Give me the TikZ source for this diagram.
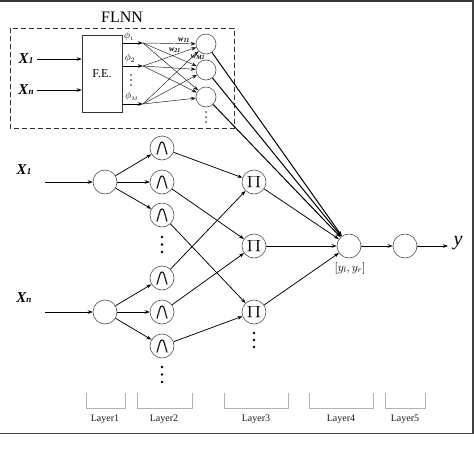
\documentclass[tikz,border=0pt]{standalone}
\usepackage{fontspec}
\usepackage{graphicx}
\setmainfont{Liberation Serif}
\usetikzlibrary{arrows.meta}
\begin{document}
\begin{tikzpicture}[x=1pt,y=-1pt,
  >={Stealth[length=5pt,width=3.6pt]},
  neuron/.style={circle, draw=gray!65!black, line width=0.6pt, minimum size=24pt, inner sep=0pt},
  hid/.style={circle, draw=gray!65!black, line width=0.6pt, minimum size=20pt, inner sep=0pt},
  gauss/.style={neuron, path picture={
    \draw[line width=1.3pt, gray!30!black]
      ([shift={(-5pt,-6.5pt)}]path picture bounding box.center)
      .. controls +(2.6pt,9pt) and +(-2pt,0pt) ..
      ([shift={(0pt,6pt)}]path picture bounding box.center)
      .. controls +(2pt,0pt) and +(-2.6pt,9pt) ..
      ([shift={(5pt,-6.5pt)}]path picture bounding box.center);}},
  prodn/.style={neuron},
  conn/.style={->, line width=0.75pt, black},
  thin/.style={->, line width=0.45pt, gray!20!black},
  thick/.style={->, line width=1pt, black},
  inlab/.style={font=\fontsize{15}{17}\selectfont\bfseries\itshape},
  wlab/.style={font=\footnotesize\bfseries\itshape, inner sep=0pt},
  phil/.style={font=\normalsize, inner sep=0pt},
  bracket/.style={draw=gray!60, line width=0.8pt},
  laylab/.style={font=\fontsize{10}{12}\selectfont, text=gray!20!black},
  dot/.style={fill=black, circle, inner sep=0pt, minimum size=2.6pt},
  sdot/.style={fill=gray!20!black, circle, inner sep=0pt, minimum size=1.8pt}
]
\useasboundingbox (0,0) rectangle (474,450);
% frame
\draw[line width=2.5pt, gray!40!black] (0,1.2) -- (474,1.2);
\draw[line width=2pt, gray!50!black] (472.5,0) -- (472.5,434);
\draw[line width=1.6pt, gray!50!black] (0,433.5) -- (473.5,433.5);

% ---------- FLNN ----------
\node[font=\fontsize{16}{18}\selectfont] (flnn) at (122,17) {FLNN};
\draw[gray!40!black, line width=0.8pt, dash pattern=on 5pt off 3pt] (10,28) rectangle (234,128);
\node[draw=gray!40!black, line width=0.6pt, minimum width=40pt, minimum height=77pt, inner sep=0pt, font=\large] (fe) at (102,73.5) {F.E.};
\node[inlab] (fx1) at (26,59) {X{\small 1}};
\node[inlab] (fxn) at (26,90) {X{\small n}};
\draw[conn] (fx1.east) -- (fe.west |- fx1);
\draw[conn] (fxn.east) -- (fe.west |- fxn);

\coordinate (p1) at (143,43);
\coordinate (p2) at (143,66);
\coordinate (pM) at (143,104);
\draw[conn, line width=0.6pt] (fe.east |- p1) -- (p1);
\draw[conn, line width=0.6pt] (fe.east |- p2) -- (p2);
\draw[conn, line width=0.6pt] (fe.east |- pM) -- (pM);
\node[phil] (phi1) at (129,36) {$\phi_{\scriptscriptstyle 1}$};
\node[phil] (phi2) at (130,58) {$\phi_2$};
\node[phil] (phiM) at (132,96) {$\phi_{\scriptscriptstyle M}$};
\node[sdot] (pd1) at (131,75) {};
\node[sdot] (pd2) at (131,80) {};
\node[sdot] (pd3) at (131,85) {};

\node[hid] (h1) at (206,44) {};
\node[hid] (h2) at (206,70) {};
\node[hid] (h3) at (206,97) {};
\node[sdot] (hd1) at (206,112) {};
\node[sdot] (hd2) at (206,117) {};
\node[sdot] (hd3) at (206,122) {};
\foreach \p in {p1,p2,pM}{
  \foreach \h in {h1,h2,h3}{
    \draw[thin] (\p) -- (\h);
  }
}
\node[wlab] (w11) at (184,40) {w\textsubscript{11}};
\node[wlab] (w21) at (175,50) {w\textsubscript{21}};
\node[wlab] (wM1) at (198,57) {w\textsubscript{M1}};

% ---------- main network ----------
\node[inlab] (x1) at (24,170) {X{\small 1}};
\node[inlab] (xn) at (24,298) {X{\small n}};
\coordinate (x1s) at (45,182);
\coordinate (xns) at (45,312);
\node[neuron] (a1) at (105,182) {};
\node[neuron] (a2) at (105,312) {};
\draw[conn] (x1s) -- (a1);
\draw[conn] (xns) -- (a2);

\node[gauss] (b1) at (162,148) {};
\node[gauss] (b2) at (162,182) {};
\node[gauss] (b3) at (162,215) {};
\node[gauss] (b4) at (162,278) {};
\node[gauss] (b5) at (162,312) {};
\node[gauss] (b6) at (162,346) {};
\node[dot] (d1) at (162,237) {};
\node[dot] (d2) at (162,244.5) {};
\node[dot] (d3) at (162,252) {};
\node[dot] (e1) at (162,367) {};
\node[dot] (e2) at (162,374.5) {};
\node[dot] (e3) at (162,382) {};

\draw[conn] (a1) -- (b1);
\draw[conn] (a1) -- (b2);
\draw[conn] (a1) -- (b3);
\draw[conn] (a2) -- (b4);
\draw[conn] (a2) -- (b5);
\draw[conn] (a2) -- (b6);

\node[prodn] (c1) at (254,182) {\scalebox{1.55}[1.12]{$\prod$}};
\node[prodn] (c2) at (254,246) {\scalebox{1.55}[1.12]{$\prod$}};
\node[prodn] (c3) at (254,312) {\scalebox{1.55}[1.12]{$\prod$}};
\node[dot] (f1) at (254,333) {};
\node[dot] (f2) at (254,340) {};
\node[dot] (f3) at (254,347) {};

\draw[conn] (b1) -- (c1);
\draw[conn] (b2) -- (c2);
\draw[conn] (b3) -- (c3);
\draw[conn] (b4) -- (c1);
\draw[conn] (b5) -- (c2);
\draw[conn] (b6) -- (c3);

\node[neuron] (l4) at (349,246) {};
\node[font=\large] (l4lab) at (350,268) {$[y_l, y_r]$};
\node[neuron] (l5) at (405,246) {};
\coordinate (yend) at (448,246);
\node[font=\fontsize{20}{22}\selectfont\itshape] (ylab) at (458,243) {y};

\draw[conn] (c1) -- (l4);
\draw[conn] (c2) -- (l4);
\draw[conn] (c3) -- (l4);
\draw[thick] (h1) -- (l4);
\draw[thick] (h2) -- (l4);
\draw[thick] (h3) -- (l4);
\draw[conn] (l4) -- (l5);
\draw[conn] (l5) -- (yend);

% ---------- layer brackets ----------
\draw[bracket] (86,393) |- (125,408) -- (125,393);
\draw[bracket] (137,393) |- (192,408) -- (192,393);
\draw[bracket] (224,393) |- (288,408) -- (288,393);
\draw[bracket] (309,393) |- (373,408) -- (373,393);
\draw[bracket] (385,393) |- (425,408) -- (425,393);
\node[laylab] (L1) at (105,419) {Layer1};
\node[laylab] (L2) at (164,419) {Layer2};
\node[laylab] (L3) at (256,419) {Layer3};
\node[laylab] (L4) at (341,419) {Layer4};
\node[laylab] (L5) at (405,419) {Layer5};
\end{tikzpicture}
\end{document}
